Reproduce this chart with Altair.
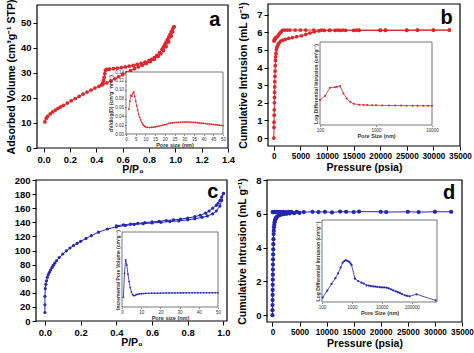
import altair as alt
import pandas as pd

W, H = 474, 353
RED = "#e0252b"
BLUE = "#2626b4"
FONT = "Liberation Sans"

# ---------------- panel a (N2 isotherm, red) ----------------
a_ads_x = [0.01, 0.02, 0.03, 0.05, 0.07, 0.09, 0.11, 0.13, 0.15, 0.18, 0.21, 0.24, 0.27, 0.30, 0.33, 0.36,
           0.39, 0.42, 0.45, 0.48, 0.51, 0.54, 0.57, 0.60, 0.63, 0.66, 0.69, 0.72, 0.75, 0.78, 0.81, 0.84,
           0.87, 0.89, 0.91, 0.93, 0.95, 0.97, 0.98, 0.99]
a_ads_y = [10.4, 11.8, 12.6, 13.6, 14.4, 15.1, 15.8, 16.4, 17.0, 17.9, 18.8, 19.7, 20.6, 21.5, 22.3, 23.1,
           23.9, 24.6, 25.3, 26.0, 26.8, 27.6, 28.4, 29.2, 30.0, 30.8, 31.6, 32.3, 33.0, 33.7, 34.4, 35.3,
           36.5, 37.6, 38.8, 40.4, 42.3, 44.6, 46.3, 48.3]
a_des_x = [0.99, 0.98, 0.97, 0.96, 0.95, 0.94, 0.93, 0.92, 0.91, 0.90, 0.88, 0.86, 0.84, 0.82, 0.80, 0.77,
           0.74, 0.71, 0.68, 0.65, 0.62, 0.59, 0.56, 0.53, 0.50, 0.48, 0.47, 0.465, 0.46, 0.455, 0.45, 0.44]
a_des_y = [48.3, 47.5, 46.4, 45.3, 44.2, 43.2, 42.2, 41.2, 40.3, 39.4, 38.0, 36.9, 36.0, 35.3, 34.8, 34.2,
           33.7, 33.3, 32.9, 32.6, 32.3, 32.0, 31.8, 31.6, 31.4, 31.3, 31.0, 29.6, 28.2, 27.0, 26.0, 25.2]
a_in_x = [1.5, 2.0, 2.5, 3.0, 3.5, 4.0, 4.5, 5.0, 5.5, 6.0, 6.5, 7.0, 7.5, 8.0, 8.5, 9.0, 9.5, 10, 11, 12,
          13, 14, 15, 16, 17, 18, 19, 20, 21, 22, 23, 24, 25, 26, 27, 28, 29, 30, 31, 32, 33, 34, 35, 36,
          37, 38, 39, 40, 41, 42, 43, 44, 45, 46, 47, 48, 49, 50]
a_in_y = [0.056, 0.074, 0.088, 0.085, 0.092, 0.095, 0.085, 0.075, 0.064, 0.054, 0.045, 0.038, 0.032, 0.027,
          0.023, 0.020, 0.018, 0.016, 0.015, 0.0145, 0.015, 0.0155, 0.016, 0.017, 0.018, 0.019, 0.020,
          0.021, 0.022, 0.024, 0.025, 0.025, 0.0255, 0.026, 0.026, 0.0265, 0.027, 0.027, 0.027, 0.027,
          0.027, 0.0265, 0.026, 0.026, 0.0255, 0.025, 0.0245, 0.024, 0.0235, 0.023, 0.0225, 0.022, 0.0215,
          0.021, 0.0205, 0.020, 0.0195, 0.019]

# ---------------- panel b (Hg intrusion, red) ----------------
b_in_x = [0, 20, 40, 60, 80, 100, 120, 140, 160, 180, 200, 230, 260, 300, 340, 400, 470, 550, 650, 800,
          1000, 1300, 1700, 2200, 2800, 3500, 4300, 5200, 6000, 6800, 7600, 8500, 9500, 10500, 11500,
          12500, 13500, 15000, 16000, 20000, 21000, 25000, 27000, 30000, 33000]
b_in_y = [0, 0.6, 0.9, 1.3, 1.6, 2.0, 2.3, 2.6, 2.9, 3.2, 3.5, 3.8, 4.1, 4.4, 4.6, 4.8, 5.0, 5.1, 5.2, 5.3,
          5.4, 5.5, 5.55, 5.6, 5.65, 5.7, 5.75, 5.8, 5.88, 5.95, 6.02, 6.07, 6.1, 6.1, 6.1, 6.1, 6.1, 6.1,
          6.1, 6.1, 6.1, 6.1, 6.12, 6.12, 6.12]
b_ex_x = [33000, 30000, 27000, 25000, 21000, 20000, 16000, 15500, 13000, 12000, 10500, 9000, 7500, 6000,
          5000, 4000, 3000, 2500, 2000, 1600, 1300, 1000, 800, 600, 400, 250, 150, 80, 30]
b_ex_y = [6.12, 6.12, 6.12, 6.12, 6.12, 6.12, 6.12, 6.12, 6.12, 6.12, 6.12, 6.12, 6.12, 6.12, 6.12, 6.12,
          6.12, 6.12, 6.12, 6.1, 6.0, 5.9, 5.8, 5.75, 5.7, 5.65, 5.6, 5.55, 5.5]
b_ps_x = [100, 123, 150, 185, 200, 228, 262, 300, 345, 400, 500, 600, 700, 850, 1000, 1300, 1700, 2200,
          2800, 3500, 4500, 5500, 7000, 8500, 10000]
b_ps_y = [0.30, 0.35, 0.45, 0.455, 0.46, 0.47, 0.38, 0.32, 0.28, 0.255, 0.245, 0.242, 0.24, 0.238, 0.237,
          0.236, 0.235, 0.234, 0.234, 0.233, 0.233, 0.232, 0.232, 0.232, 0.232]

# ---------------- panel c (N2 isotherm, blue) ----------------
c_ads_x = [0.0, 0.0, 0.0, 0.002, 0.005, 0.009, 0.014, 0.019, 0.025, 0.032, 0.04, 0.047, 0.055, 0.065, 0.08,
           0.10, 0.12, 0.14, 0.16, 0.18, 0.20, 0.23, 0.26, 0.30, 0.35, 0.40, 0.45, 0.50, 0.55, 0.60, 0.65,
           0.70, 0.75, 0.80, 0.84, 0.88, 0.91, 0.94, 0.96, 0.98, 0.99, 1.0]
c_ads_y = [12, 23, 35, 46, 52, 57, 62, 66, 69, 72.5, 76, 79, 82, 85.5, 90, 95, 99.5, 103.5, 107, 110, 113,
           117, 121, 126, 130.5, 133.5, 135.5, 137, 138, 139, 140, 141, 142, 143.5, 145, 147, 149, 152,
           156, 163, 171, 181]
c_des_x = [1.0, 0.99, 0.98, 0.97, 0.96, 0.94, 0.92, 0.90, 0.87, 0.84, 0.80, 0.76, 0.72, 0.68, 0.64, 0.60,
           0.56, 0.52, 0.48, 0.44, 0.40]
c_des_y = [181, 176, 171, 167, 164, 160, 156, 153, 150, 148, 146, 144.5, 143.5, 142.5, 141.5, 140.5,
           139.5, 138.5, 137.5, 136.5, 135]
c_ps_x = [0.7, 1.3, 1.9, 2.5, 3.1, 3.7, 4.3, 4.9, 5.5, 6.1, 6.8, 7.5, 8.3, 9.2, 10.2, 11.3, 12.5, 14, 15.5,
          17, 18.5, 20, 21.5, 23, 24.5, 26, 27.5, 29, 30.5, 32, 33.5, 35, 36.5, 38, 39.5, 41, 42.5, 44,
          45.5, 47, 48.5, 50]
c_ps_y = [0.13, 0.45, 0.63, 0.56, 0.44, 0.34, 0.26, 0.20, 0.165, 0.152, 0.155, 0.165, 0.172, 0.176, 0.178,
          0.180, 0.182, 0.183, 0.184, 0.185, 0.185, 0.186, 0.186, 0.187, 0.187, 0.187, 0.188, 0.188,
          0.188, 0.188, 0.189, 0.189, 0.189, 0.189, 0.19, 0.19, 0.19, 0.19, 0.19, 0.19, 0.19, 0.19]

# ---------------- panel d (Hg intrusion, blue) ----------------
d_in_x = [0, 10, 20, 30, 40, 50, 60, 70, 80, 90, 100, 115, 130, 150, 170, 190, 220, 250, 290, 340, 400,
          470, 550, 650, 780, 950, 1150, 1400, 1700, 2100, 2600, 3200, 4000, 5000]
d_in_y = [0, 0.3, 0.6, 0.9, 1.2, 1.5, 1.8, 2.1, 2.4, 2.7, 3.0, 3.3, 3.6, 3.9, 4.2, 4.5, 4.8, 5.0, 5.2,
          5.35, 5.5, 5.6, 5.68, 5.75, 5.8, 5.85, 5.9, 5.93, 5.96, 5.98, 6.0, 6.02, 6.04, 6.05]
d_ex_x = [33000, 30000, 27000, 25000, 21000, 20000, 16000, 15000, 13600, 12500, 11000, 9700, 8500, 7400,
          5800, 4500, 3500, 3000, 2500, 2000, 1700, 1400, 1100, 800, 600, 400, 250, 120, 40]
d_ex_y = [6.12, 6.12, 6.1, 6.12, 6.1, 6.12, 6.13, 6.1, 6.12, 6.13, 6.08, 6.12, 6.1, 6.12, 6.1, 6.12,
          6.12, 6.12, 6.1, 6.12, 6.1, 6.12, 6.1, 6.12, 6.1, 6.12, 6.1, 6.1, 6.1]
d_ps_x = [105, 150, 209, 280, 347, 420, 490, 560, 631, 720, 813, 900, 977, 1259, 1622, 2089, 2500, 3090,
          3700, 4300, 5130, 6000, 7000, 8510, 10000, 12000, 14450, 17000, 20000, 24000, 29000, 34000, 39800,
          47000, 58900, 70000, 85000, 144500, 631000]
d_ps_y = [0.054, 0.14, 0.22, 0.29, 0.35, 0.42, 0.48, 0.50, 0.51, 0.50, 0.49, 0.47, 0.45, 0.285, 0.256,
          0.235, 0.225, 0.204, 0.20, 0.195, 0.19, 0.188, 0.185, 0.18, 0.178, 0.177, 0.175, 0.165, 0.155,
          0.143, 0.13, 0.12, 0.11, 0.095, 0.082, 0.075, 0.07, 0.094, 0.02]

letters = ["a", "b", "c", "d"]


def frame_df(xd, yd):
    return pd.DataFrame({"x": [xd[0]], "x2": [xd[1]], "y": [yd[0]], "y2": [yd[1]]})


def series_df(x, y):
    return pd.DataFrame({"x": x, "y": y, "i": list(range(len(x)))})


def panel(series, xd, yd, xr, yr, xax, yax, color, size, main=True, xtype="linear",
          letter=None, lxy=None, lw=1.0):
    xs = alt.Scale(type=xtype, domain=xd, range=xr, nice=False, zero=False)
    ys = alt.Scale(domain=yd, range=yr, nice=False, zero=False)
    X = alt.X("x:Q", scale=xs, axis=xax)
    Y = alt.Y("y:Q", scale=ys, axis=yax)
    if main:
        fr = alt.Chart(frame_df(xd, yd)).mark_rect(fillOpacity=0, stroke="black", strokeWidth=1.2)
    else:
        fr = alt.Chart(frame_df(xd, yd)).mark_rect(fill="white", stroke="#555555", strokeWidth=0.8)
    layers = [fr.encode(x=X, x2="x2:Q", y=Y, y2="y2:Q")]
    for sx, sy in series:
        d = series_df(sx, sy)
        layers.append(alt.Chart(d).mark_line(color=color, strokeWidth=lw, clip=True).encode(
            x=X, y=Y, order="i:Q"))
        layers.append(alt.Chart(d).mark_point(color=color, filled=True, size=size, opacity=1,
                                              clip=True).encode(x=X, y=Y))
    if letter:
        ld = pd.DataFrame({"x": [lxy[0]], "y": [lxy[1]], "t": [letter]})
        layers.append(alt.Chart(ld).mark_text(font=FONT, fontSize=20, fontWeight="bold",
                                              color="black").encode(x=X, y=Y, text="t:N"))
    return alt.layer(*layers)


def main_x(vals, fmt, title, ybottom, tpad=1, lsize=9.5):
    return alt.Axis(values=vals, format=fmt, title=title, orient="bottom", offset=ybottom - H,
                    domain=False, grid=False, ticks=True, tickSize=4, tickColor="black", tickWidth=1,
                    labelFont=FONT, labelFontSize=lsize, labelFontWeight="bold", labelColor="black",
                    labelPadding=2, labelFlush=False, labelOverlap=False,
                    titleFont=FONT, titleFontSize=10.5, titleFontWeight="bold", titleColor="black",
                    titlePadding=tpad, zindex=1)


def main_y(vals, fmt, title, xleft, tpad=4):
    return alt.Axis(values=vals, format=fmt, title=title, orient="left", offset=-xleft,
                    domain=False, grid=False, ticks=True, tickSize=4, tickColor="black", tickWidth=1,
                    labelFont=FONT, labelFontSize=9.5, labelFontWeight="bold", labelColor="black",
                    labelPadding=2, labelFlush=False, labelOverlap=False,
                    titleFont=FONT, titleFontSize=10.5, titleFontWeight="bold", titleColor="black",
                    titlePadding=tpad, zindex=1)


def ins_x(vals, fmt, title, ybottom):
    return alt.Axis(values=vals, format=fmt, title=title, orient="bottom", offset=ybottom - H,
                    domain=False, grid=False, tickSize=1.5, tickColor="#444", tickWidth=0.6,
                    labelFont=FONT, labelFontSize=4.5, labelColor="#333", labelPadding=1,
                    labelFlush=False, labelOverlap=False,
                    titleFont=FONT, titleFontSize=5.5, titleFontWeight="bold", titleColor="#333",
                    titlePadding=1.5, zindex=1)


def ins_y(vals, fmt, title, xleft, labels=True):
    kw = dict(values=vals, format=fmt) if labels else dict(labels=False, ticks=False)
    return alt.Axis(title=title, orient="left", offset=-xleft, domain=False, grid=False,
                    tickSize=1.5, tickColor="#444", tickWidth=0.6,
                    labelFont=FONT, labelFontSize=4.5, labelColor="#333", labelPadding=1,
                    labelFlush=False, labelOverlap=False,
                    titleFont=FONT, titleFontSize=5, titleFontWeight="bold", titleColor="#333",
                    titlePadding=1.5, zindex=1, **kw)


# geometry (pixel ranges of each plot frame)
A_X, A_Y = [37, 228], [148, 5]
B_X, B_Y = [268, 460], [146, 4]
C_X, C_Y = [36, 227], [321, 180]
D_X, D_Y = [267, 462], [322, 180]
AI_X, AI_Y = [126, 223], [134, 72]
BI_X, BI_Y = [320, 432], [125, 42]
CI_X, CI_Y = [122, 218], [307, 232]
DI_X, DI_Y = [322, 437], [302, 220]

pa = panel([(a_ads_x, a_ads_y), (a_des_x, a_des_y)], [-0.05, 1.4], [0, 57], A_X, A_Y,
           main_x([0, 0.2, 0.4, 0.6, 0.8, 1.0, 1.2, 1.4], ".1f", "P/P₀", A_Y[0]),
           main_y([0, 10, 20, 30, 40, 50], "d", "Adsorbed Volume (cm³g⁻¹ STP)", A_X[0]),
           RED, 14, letter=letters[0], lxy=(1.3, 51))
pai = panel([(a_in_x, a_in_y)], [0, 50], [0, 0.14], AI_X, AI_Y,
            ins_x([0, 5, 10, 15, 20, 25, 30, 35, 40, 45, 50], "d", "Pore size (nm)", AI_Y[0]),
            ins_y([0, 0.02, 0.04, 0.06, 0.08, 0.10, 0.12, 0.14], ".2f",
                  "dV/dlog(D) (cm³g⁻¹nm⁻¹)", AI_X[0]),
            RED, 3, main=False, lw=0.7)

pb = panel([(b_in_x, b_in_y), (b_ex_x, b_ex_y)], [-1100, 35000], [-0.45, 7.6], B_X, B_Y,
           main_x([0, 5000, 10000, 15000, 20000, 25000, 30000, 35000], "d", "Pressure (psia)", B_Y[0],
                  lsize=8.2, tpad=3),
           main_y([0, 1, 2, 3, 4, 5, 6, 7], "d", "Cumulative Intrusion (mL g⁻¹)", B_X[0], tpad=8),
           RED, 14, letter=letters[1], lxy=(32500, 6.8))
pbi = panel([(b_ps_x, b_ps_y)], [100, 10000], [0, 1], BI_X, BI_Y,
            ins_x([100, 1000, 10000], "d", "Pore Size (nm)", BI_Y[0]),
            ins_y(None, None, "Log Differential Intrusion (cm³g⁻¹)", BI_X[0], labels=False),
            RED, 4, main=False, xtype="log", lw=0.8)

pc = panel([(c_ads_x, c_ads_y), (c_des_x, c_des_y)], [-0.05, 1.02], [0, 200], C_X, C_Y,
           main_x([0, 0.2, 0.4, 0.6, 0.8, 1.0], ".1f", "P/P₀", C_Y[0]),
           main_y(list(range(0, 201, 20)), "d", "", C_X[0]),
           BLUE, 10, letter=letters[2], lxy=(0.94, 183))
pci = panel([(c_ps_x, c_ps_y)], [0, 50], [0, 1], CI_X, CI_Y,
            ins_x([0, 10, 20, 30, 40, 50], "d", "Pore size (nm)", CI_Y[0]),
            ins_y(None, None, "Incremental Pore Volume (cm³g⁻¹)", CI_X[0], labels=False),
            BLUE, 3, main=False, lw=0.8)

pd_ = panel([(d_in_x, d_in_y), (d_ex_x, d_ex_y)], [-1000, 35000], [-0.4, 8], D_X, D_Y,
            main_x([0, 5000, 10000, 15000, 20000, 25000, 30000, 35000], "d", "Pressure (psia)", D_Y[0],
                   lsize=8.2, tpad=3),
            main_y([0, 2, 4, 6, 8], "d", "Cumulative Intrusion (mL g⁻¹)", D_X[0], tpad=8),
            BLUE, 18, letter=letters[3], lxy=(32600, 7.23))
pdi = panel([(d_ps_x, d_ps_y)], [100, 700000], [0, 1], DI_X, DI_Y,
            ins_x([100, 1000, 10000, 100000], "d", "Pore Size (nm)", DI_Y[0]),
            ins_y(None, None, "Log Differential Intrusion (cm³g⁻¹)", DI_X[0], labels=False),
            BLUE, 5, main=False, xtype="log", lw=0.8)

chart = alt.layer(pa, pai, pb, pbi, pc, pci, pd_, pdi).resolve_scale(
    x="independent", y="independent"
).properties(
    width=W, height=H, autosize=alt.AutoSizeParams(type="none"), padding=0, background="white"
).configure_view(strokeWidth=0)

chart.save("out.html", embed_options={"renderer": "svg", "actions": False})
